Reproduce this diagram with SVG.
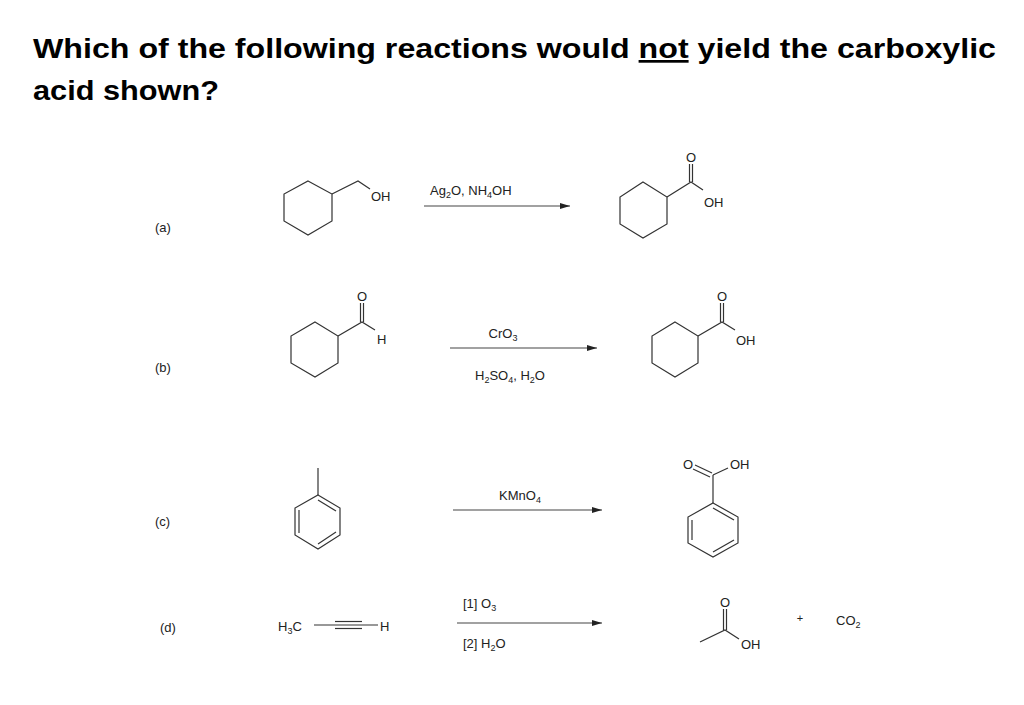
<svg xmlns="http://www.w3.org/2000/svg" width="1024" height="705" viewBox="0 0 1024 705">
<defs>
<marker id="ah" viewBox="0 0 10 6" refX="10" refY="3" markerWidth="10" markerHeight="6" markerUnits="userSpaceOnUse" orient="auto"><path d="M0,0 L10,3 L0,6 Z" fill="#222"/></marker>
</defs>
<style>
.t{font-family:"Liberation Sans",Arial,sans-serif;font-size:13px;fill:#222}
.s{font-size:9px}
.b{stroke:#333;stroke-width:1.2;fill:none}
.ar{stroke:#444;stroke-width:1.2;fill:none;marker-end:url(#ah)}
.h{font-family:"Liberation Sans",Arial,sans-serif;font-size:27px;font-weight:bold;fill:#000}
</style>
<rect width="1024" height="705" fill="#fff"/>
<g id="title">
<text class="h" x="33" y="58" textLength="963" lengthAdjust="spacingAndGlyphs">Which of the following reactions would <tspan text-decoration="underline">not</tspan> yield the carboxylic</text>
<text class="h" x="33" y="100" textLength="186" lengthAdjust="spacingAndGlyphs">acid shown?</text>
</g>
<g id="labels">
<text class="t" x="155" y="232">(a)</text>
<text class="t" x="155" y="372">(b)</text>
<text class="t" x="155" y="526">(c)</text>
<text class="t" x="160" y="632">(d)</text>
</g>
<g id="a-reactant">
<polygon class="b" points="308,181 332,194 332,221 308,235 284,221 284,194"/>
<polyline class="b" points="332,194 358,181 370,189"/>
<text class="t" x="371" y="201">OH</text>
</g>
<g id="a-product">
<polygon class="b" points="643,182 667,197 667,224 643,238 620,224 620,197"/>
<polyline class="b" points="667,197 691,182 703,190"/>
<line class="b" x1="689.5" y1="182" x2="689.5" y2="164"/><line class="b" x1="692.5" y1="182" x2="692.5" y2="164"/>
<text class="t" x="691" y="162" text-anchor="middle">O</text>
<text class="t" x="704" y="207">OH</text>
</g>
<g id="b-reactant">
<polygon class="b" points="315,322 338,336 338,363 315,377 291,363 291,336"/>
<polyline class="b" points="338,336 362,322 375,330"/>
<line class="b" x1="360.5" y1="322" x2="360.5" y2="303"/><line class="b" x1="363.5" y1="322" x2="363.5" y2="303"/>
<text class="t" x="362" y="301" text-anchor="middle">O</text>
<text class="t" x="377" y="344">H</text>
</g>
<g id="b-product">
<polygon class="b" points="675,322 698,336 698,363 675,377 652,363 652,336"/>
<polyline class="b" points="698,336 722,322 735,330"/>
<line class="b" x1="720.5" y1="322" x2="720.5" y2="303"/><line class="b" x1="723.5" y1="322" x2="723.5" y2="303"/>
<text class="t" x="722" y="301" text-anchor="middle">O</text>
<text class="t" x="736" y="345">OH</text>
</g>
<g id="c-reactant">
<line class="b" x1="318" y1="468" x2="318" y2="495"/>
<polygon class="b" points="318,495 340,508 340,535 318,549 295,535 295,508"/>
<line class="b" x1="318" y1="500" x2="336" y2="511"/>
<line class="b" x1="299" y1="510" x2="299" y2="533"/>
<line class="b" x1="336" y1="532" x2="318" y2="544"/>
</g>
<g id="c-product">
<line class="b" x1="713" y1="475" x2="713" y2="503"/>
<line class="b" x1="713" y1="475" x2="728" y2="468"/>
<line class="b" x1="712" y1="473" x2="695" y2="465"/><line class="b" x1="710" y1="477" x2="693" y2="469"/>
<text class="t" x="688" y="469" text-anchor="middle">O</text>
<text class="t" x="730" y="469">OH</text>
<polygon class="b" points="713,503 738,517 738,543 713,557 688,543 688,517"/>
<line class="b" x1="713" y1="508" x2="734" y2="520"/>
<line class="b" x1="692" y1="520" x2="692" y2="540"/>
<line class="b" x1="734" y1="540" x2="713" y2="552"/>
</g>
<g id="d-reactant">
<text class="t" x="278" y="631">H<tspan class="s" dy="3">3</tspan><tspan dy="-3">C</tspan></text>
<line class="b" x1="314" y1="625" x2="378" y2="625"/>
<line class="b" x1="335" y1="621.5" x2="362" y2="621.5"/>
<line class="b" x1="335" y1="628.5" x2="362" y2="628.5"/>
<text class="t" x="380" y="631">H</text>
</g>
<g id="d-product">
<polyline class="b" points="700,642 725,630 739,639"/>
<line class="b" x1="723.5" y1="630" x2="723.5" y2="609"/><line class="b" x1="726.5" y1="630" x2="726.5" y2="609"/>
<text class="t" x="725" y="607" text-anchor="middle">O</text>
<text class="t" x="741" y="649">OH</text>
<text class="t" x="800" y="622" text-anchor="middle" style="font-size:11px">+</text>
<text class="t" x="836" y="625">CO<tspan class="s" dy="3">2</tspan></text>
</g>
<g id="connectors">
<line class="ar" x1="424" y1="206" x2="570" y2="206"/>
<line class="ar" x1="450" y1="348" x2="597" y2="348"/>
<line class="ar" x1="453" y1="510" x2="602" y2="510"/>
<line class="ar" x1="457" y1="623" x2="602" y2="623"/>
</g>
<g id="reagents">
<text class="t" x="430" y="195">Ag<tspan class="s" dy="3">2</tspan><tspan dy="-3">O, NH</tspan><tspan class="s" dy="3">4</tspan><tspan dy="-3">OH</tspan></text>
<text class="t" x="503" y="338" text-anchor="middle">CrO<tspan class="s" dy="3">3</tspan></text>
<text class="t" x="510" y="380" text-anchor="middle">H<tspan class="s" dy="3">2</tspan><tspan dy="-3">SO</tspan><tspan class="s" dy="3">4</tspan><tspan dy="-3">, H</tspan><tspan class="s" dy="3">2</tspan><tspan dy="-3">O</tspan></text>
<text class="t" x="520" y="500" text-anchor="middle">KMnO<tspan class="s" dy="3">4</tspan></text>
<text class="t" x="463" y="608">[1] O<tspan class="s" dy="3">3</tspan></text>
<text class="t" x="463" y="648">[2] H<tspan class="s" dy="3">2</tspan><tspan dy="-3">O</tspan></text>
</g>
</svg>
